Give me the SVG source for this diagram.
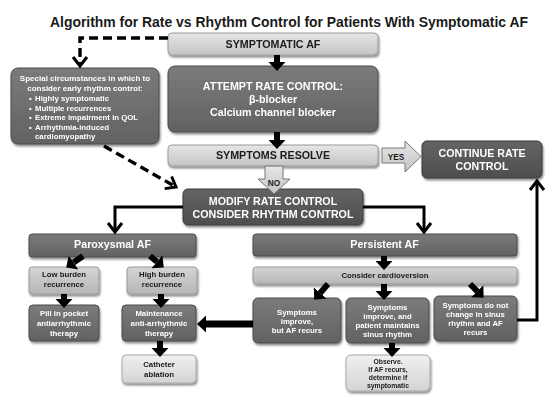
<svg xmlns="http://www.w3.org/2000/svg" width="556" height="400" viewBox="0 0 556 400">
<defs>
<style>
.t{font-family:"Liberation Sans",Arial,sans-serif;font-weight:bold;text-anchor:middle}
.w{fill:#fff}
.k{fill:#1a1a1a}
.big{font-size:10.7px}
.sm{font-size:7.8px}
.dark{fill:url(#gDark);stroke:#4a4a4a;stroke-width:1}
.darker{fill:url(#gDarker);stroke:#3a3a3a;stroke-width:1}
.mid{fill:url(#gMid);stroke:#9a9a9a;stroke-width:1}
.light{fill:url(#gLight);stroke:#9a9a9a;stroke-width:1}
.lightest{fill:url(#gLightest);stroke:#a8a8a8;stroke-width:1}
.box{filter:url(#sh)}
.thick{stroke:#000;stroke-width:6;fill:none;marker-end:url(#tri)}
.thin{stroke:#000;stroke-width:3;fill:none;marker-end:url(#chev)}
.dash{stroke:#000;stroke-width:3.4;fill:none;stroke-dasharray:9 5;marker-end:url(#chev)}
.block{fill:url(#gLight);stroke:#777;stroke-width:1}
</style>
<linearGradient id="gDark" x1="0" y1="0" x2="0" y2="1"><stop offset="0" stop-color="#7b7b7b"/><stop offset="1" stop-color="#626262"/></linearGradient>
<linearGradient id="gDarker" x1="0" y1="0" x2="0" y2="1"><stop offset="0" stop-color="#646464"/><stop offset="1" stop-color="#4e4e4e"/></linearGradient>
<linearGradient id="gMid" x1="0" y1="0" x2="0" y2="1"><stop offset="0" stop-color="#d4d4d4"/><stop offset="1" stop-color="#b6b6b6"/></linearGradient>
<linearGradient id="gLight" x1="0" y1="0" x2="0" y2="1"><stop offset="0" stop-color="#e6e6e6"/><stop offset="1" stop-color="#c4c4c4"/></linearGradient>
<linearGradient id="gLightest" x1="0" y1="0" x2="0" y2="1"><stop offset="0" stop-color="#f0f0f0"/><stop offset="1" stop-color="#d4d4d4"/></linearGradient>
<filter id="sh" x="-10%" y="-15%" width="125%" height="145%"><feDropShadow dx="1" dy="2" stdDeviation="1.2" flood-color="#000" flood-opacity="0.45"/></filter>
<marker id="tri" markerUnits="userSpaceOnUse" markerWidth="12" markerHeight="20" viewBox="0 -10 12 20" refX="0" refY="0" orient="auto"><path d="M0,-8.5 L9,0 L0,8.5 Z" fill="#000"/></marker>
<marker id="chev" markerUnits="userSpaceOnUse" markerWidth="24" markerHeight="24" viewBox="-12 -12 24 24" refX="0" refY="0" orient="auto"><path d="M-9,-7 L0,0 L-9,7" fill="none" stroke="#000" stroke-width="3"/></marker>
</defs>
<rect width="556" height="400" fill="#fff"/>
<text class="t k" x="289" y="27" font-size="14" textLength="478" lengthAdjust="spacingAndGlyphs">Algorithm for Rate vs Rhythm Control for Patients With Symptomatic AF</text>

<g id="symptomatic-af" class="box"><rect class="light" x="168" y="33" width="210" height="22" rx="4"/><text class="t k big" x="273" y="48">SYMPTOMATIC AF</text></g>
<g id="attempt-rate" class="box"><rect class="dark" x="168" y="66" width="210" height="66" rx="7"/>
<text class="t w big" x="273" y="90">ATTEMPT RATE CONTROL:</text>
<text class="t w big" x="273" y="103">β-blocker</text>
<text class="t w big" x="273" y="116">Calcium channel blocker</text></g>
<g id="symptoms-resolve" class="box"><rect class="light" x="168" y="145" width="210" height="21" rx="4"/><text class="t k big" x="273" y="159">SYMPTOMS RESOLVE</text></g>
<g id="continue-rate" class="box"><rect class="darker" x="422" y="141" width="120" height="37" rx="5"/>
<text class="t w big" x="482" y="157">CONTINUE RATE</text>
<text class="t w big" x="482" y="170">CONTROL</text></g>
<g id="special" class="box"><rect class="dark" x="11" y="68" width="148" height="76" rx="7"/>
<text class="t w" font-size="8" x="85" y="81">Special circumstances in which to</text>
<text class="t w" font-size="8" x="85" y="91">consider early rhythm control:</text>
<g font-size="7.8">
<text class="t w" x="29" y="101" style="text-anchor:start">•</text><text class="t w" x="35" y="101" style="text-anchor:start">Highly symptomatic</text>
<text class="t w" x="29" y="110.5" style="text-anchor:start">•</text><text class="t w" x="35" y="110.5" style="text-anchor:start">Multiple recurrences</text>
<text class="t w" x="29" y="120" style="text-anchor:start">•</text><text class="t w" x="35" y="120" style="text-anchor:start">Extreme impairment in QOL</text>
<text class="t w" x="29" y="129.5" style="text-anchor:start">•</text><text class="t w" x="35" y="129.5" style="text-anchor:start">Arrhythmia-induced</text>
<text class="t w" x="35" y="139" style="text-anchor:start">cardiomyopathy</text>
</g></g>
<g id="modify" class="box"><rect class="darker" x="183" y="189" width="180" height="36" rx="5"/>
<text class="t w big" x="273" y="205">MODIFY RATE CONTROL</text>
<text class="t w big" x="273" y="217.5">CONSIDER RHYTHM CONTROL</text></g>
<g id="paroxysmal" class="box"><rect class="dark" x="29" y="234" width="167" height="23" rx="3"/><text class="t w big" x="112.5" y="248">Paroxysmal AF</text></g>
<g id="persistent" class="box"><rect class="dark" x="253" y="234" width="264" height="22" rx="3"/><text class="t w big" x="384.5" y="248">Persistent AF</text></g>
<g id="low-burden" class="box"><rect class="mid" x="29" y="267" width="70" height="27" rx="3"/>
<text class="t k sm" x="64" y="277">Low burden</text><text class="t k sm" x="64" y="287">recurrence</text></g>
<g id="high-burden" class="box"><rect class="mid" x="127" y="267" width="70" height="27" rx="3"/>
<text class="t k sm" x="162" y="277">High burden</text><text class="t k sm" x="162" y="287">recurrence</text></g>
<g id="pill" class="box"><rect class="dark" x="29" y="305" width="70" height="36" rx="4"/>
<text class="t w sm" x="64" y="316">Pill in pocket</text><text class="t w sm" x="64" y="326">antiarrhythmic</text><text class="t w sm" x="64" y="336">therapy</text></g>
<g id="maintenance" class="box"><rect class="dark" x="122" y="305" width="74" height="36" rx="4"/>
<text class="t w sm" x="159" y="316">Maintenance</text><text class="t w sm" x="159" y="326">anti-arrhythmic</text><text class="t w sm" x="159" y="336">therapy</text></g>
<g id="catheter" class="box"><rect class="lightest" x="122" y="355" width="74" height="28" rx="4"/>
<text class="t k sm" x="159" y="367">Catheter</text><text class="t k sm" x="159" y="376.5">ablation</text></g>
<g id="cardioversion" class="box"><rect class="mid" x="253" y="267" width="264" height="17" rx="3"/><text class="t k sm" x="385" y="278">Consider cardioversion</text></g>
<g id="improve-recurs" class="box"><rect class="dark" x="253" y="298" width="88" height="45" rx="5"/>
<text class="t w sm" x="297" y="315">Symptoms</text><text class="t w sm" x="297" y="324">improve,</text><text class="t w sm" x="297" y="333">but AF recurs</text></g>
<g id="improve-maintains" class="box"><rect class="dark" x="346" y="298" width="83" height="45" rx="5"/>
<text class="t w sm" x="387.5" y="310">Symptoms</text><text class="t w sm" x="387.5" y="319">improve, and</text><text class="t w sm" x="387.5" y="328">patient maintains</text><text class="t w sm" x="387.5" y="337">sinus rhythm</text></g>
<g id="no-change" class="box"><rect class="dark" x="434" y="296" width="83" height="45" rx="5"/>
<text class="t w sm" x="475.5" y="308">Symptoms do not</text><text class="t w sm" x="475.5" y="317">change in sinus</text><text class="t w sm" x="475.5" y="326">rhythm and AF</text><text class="t w sm" x="475.5" y="335">recurs</text></g>
<g id="observe" class="box"><rect class="lightest" x="346" y="355" width="84" height="36" rx="5"/>
<text class="t k" font-size="6.8" x="388" y="363.5">Observe.</text><text class="t k" font-size="6.8" x="388" y="371.5">If AF recurs,</text><text class="t k" font-size="6.8" x="388" y="379.5">determine if</text><text class="t k" font-size="6.8" x="388" y="387.5">symptomatic</text></g>

<g id="connectors">
<path class="dash" d="M168,38 H80 V66"/>
<path class="dash" d="M104,146 L176,187"/>
<path class="thick" d="M277,55 V62"/>
<path class="thick" d="M277,132 V140"/>
<polygon class="block" points="382,148 405,148 405,141 421,156.5 405,172 405,163 382,163"/>
<text class="t k" x="396" y="159.5" font-size="8.2">YES</text>
<polygon class="block" points="265,166 283,166 283,179 290,179 274,194 258,179 265,179"/>
<text class="t k" x="274" y="186" font-size="8.2">NO</text>
<path class="thin" d="M183,207 H115 V232"/>
<path class="thin" d="M363,207 H424 V232"/>
<path class="thick" d="M83,256 L73.6,262.5"/>
<path class="thick" d="M150,256 L156.9,261.8"/>
<path class="thick" d="M64,294 V299"/>
<path class="thick" d="M161,294 V299"/>
<path class="thick" d="M160,341 V348"/>
<path class="thick" d="M384,256 V261"/>
<path class="thick" d="M328,284 L320.2,292.9"/>
<path class="thick" d="M384,284 V291"/>
<path class="thick" d="M470,284 L477.3,291.3"/>
<path class="thick" d="M253,324 H206" style="stroke-width:7"/>
<path class="thick" d="M392,343 V348"/>
<path class="thin" d="M517,320 H537 V181"/>
</g>
</svg>
